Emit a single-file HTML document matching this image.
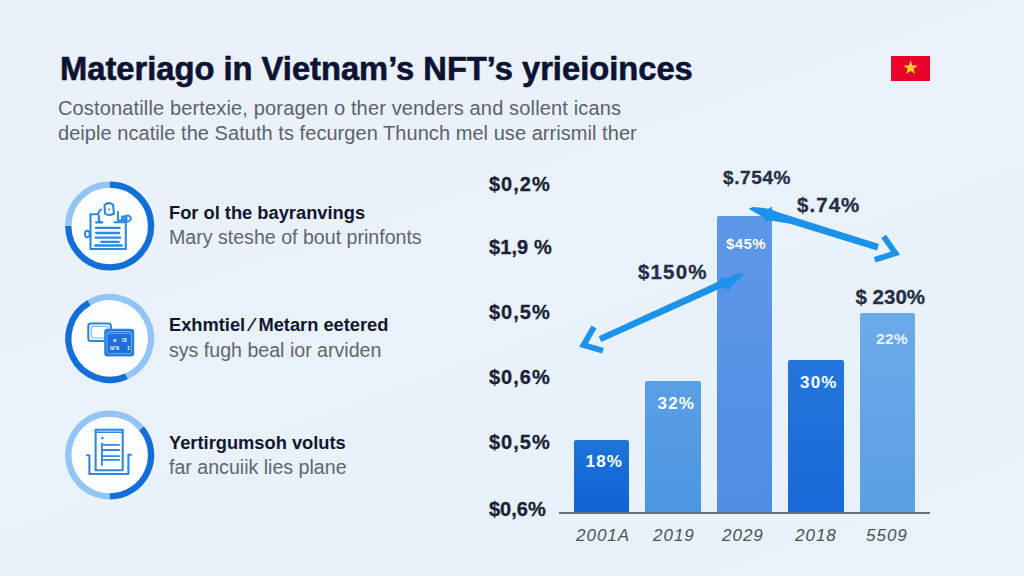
<!DOCTYPE html>
<html><head><meta charset="utf-8">
<style>
html,body{margin:0;padding:0;}
body{width:1024px;height:576px;overflow:hidden;position:relative;background:linear-gradient(160deg,#e9f0f8 0%,#e9f1f9 50%,#e7f2f9 100%);font-family:"Liberation Sans",sans-serif;}
.abs{position:absolute;white-space:nowrap;line-height:1;}
.title{left:60px;top:53px;font-size:32.7px;font-weight:bold;color:#0d1333;-webkit-text-stroke:0.6px #0d1333;}
.sub{left:58px;font-size:20px;color:#5b626d;letter-spacing:0.15px;}
.it{font-size:18.3px;font-weight:bold;color:#111631;}
.is{font-size:19.6px;color:#60666f;}
.yl{font-size:20px;letter-spacing:1px;font-weight:bold;color:#1b1f38;-webkit-text-stroke:0.3px #1b1f38;}
.xl{font-size:17px;color:#4a505c;font-style:italic;letter-spacing:1px;}
.bar{position:absolute;bottom:63px;border-radius:2px 2px 0 0;}
.bl{font-size:17px;letter-spacing:1.2px;font-weight:bold;color:#fff;}
.tl{font-size:19px;font-weight:bold;color:#272d46;-webkit-text-stroke:0.3px #272d46;}
</style></head><body>
<div class="abs title">Materiago in Vietnam’s NFT’s yrieioinces</div>
<svg class="abs" style="left:891px;top:56px" width="39" height="25" viewBox="0 0 39 25">
<rect width="39" height="25" fill="#e8032b"/>
<polygon fill="#f4d12a" points="19.60,4.30 21.36,9.47 26.83,9.55 22.45,12.83 24.07,18.05 19.60,14.90 15.13,18.05 16.75,12.83 12.37,9.55 17.84,9.47"/>
</svg>
<div class="abs sub" style="top:98px">Costonatille bertexie, poragen o ther venders and sollent icans</div>
<div class="abs sub" style="top:123px;letter-spacing:0.05px">deiple ncatile the Satuth ts fecurgen Thunch mel use arrismil ther</div>

<!-- SVG1 -->
<svg class="abs" style="left:0;top:0" width="1024" height="576" viewBox="0 0 1024 576">
<circle cx="109.7" cy="226" r="38.3" fill="#fbfdff"/>
<path d="M68.30 226.00A41.4 41.4 0 0 1 109.70 184.60" fill="none" stroke="#92c5f3" stroke-width="6.3"/>
<path d="M109.70 184.60A41.4 41.4 0 1 1 68.30 226.00" fill="none" stroke="#136fd8" stroke-width="6.3"/>
<circle cx="109.7" cy="338.5" r="38.3" fill="#fbfdff"/>
<path d="M89.00 302.65A41.4 41.4 0 1 1 126.54 376.32" fill="none" stroke="#92c5f3" stroke-width="6.3"/>
<path d="M126.54 376.32A41.4 41.4 0 0 1 89.00 302.65" fill="none" stroke="#136fd8" stroke-width="6.3"/>
<circle cx="109.7" cy="455" r="38.3" fill="#fbfdff"/>
<path d="M141.41 428.39A41.4 41.4 0 0 1 109.70 496.40" fill="none" stroke="#136fd8" stroke-width="6.3"/>
<path d="M109.70 496.40A41.4 41.4 0 1 1 141.41 428.39" fill="none" stroke="#92c5f3" stroke-width="6.3"/>
<g fill="none" stroke="#2f88de" stroke-width="2.1" stroke-linecap="round" stroke-linejoin="round">
 <!-- icon1 clipboard -->
 <path d="M98 214.3H90.5V249H125.8V222.3H114.5"/>
 <path d="M96 222.4H102.3M98 214.3C98.5 212 99.5 210.5 100.8 209.5M99 216C98.2 219 99 221.5 101 222.3"/>
 <path d="M104.5 205Q108.5 201.5 113 204.5L114 213.5Q109 216.5 105 213.5Z"/>
 <path d="M95.7 227.8H119.6M96.2 233H119M95.7 237.7H120.2M101.3 241.8H118.8M95.2 245.5H121.7" stroke-width="2.3"/>
 <path d="M118 212V220.5H124M122 220V216.5H126.5V220.5M127.5 215.5A3.3 3 0 1 1 127.5 221.5A3.3 3 0 1 1 127.5 215.5" stroke-width="1.9"/>
 <ellipse cx="87.3" cy="234" rx="2.4" ry="3.2" stroke-width="1.9"/>
</g>
<circle cx="109" cy="209.5" r="1" fill="#2a84dc"/>
<!-- icon2 -->
<g fill="none" stroke-linejoin="round">
 <rect x="88.3" y="323.5" width="22.6" height="17.4" rx="2.5" stroke="#2a84dc" stroke-width="2"/>
 <rect x="91.2" y="326.4" width="17" height="11.6" rx="1.5" stroke="#7dbaf0" stroke-width="1.2"/>
 <rect x="105" y="329.5" width="28.4" height="26.2" rx="2.5" fill="#1f6fd6" stroke="#2a84dc" stroke-width="1.6"/>
 <rect x="107" y="331.5" width="24.4" height="22.2" rx="1.5" stroke="#6fb4f0" stroke-width="1"/>
 <path d="M108 333.4H130.5" stroke="#5aa6ee" stroke-width="1.2"/>
</g>
<g fill="#fff" font-family="Liberation Sans" font-size="5.5" font-weight="bold">
 <text x="113" y="342">ɑ</text><text x="122" y="342">/3</text>
 <text x="110" y="349.5">0/'9</text><text x="127" y="349.5">1</text>
</g>
<!-- icon3 -->
<g fill="none" stroke="#2f88de" stroke-width="2.1" stroke-linecap="round" stroke-linejoin="round">
 <rect x="95.6" y="429.7" width="27.1" height="40.6"/>
 <path d="M96 432.2H122.2" stroke-width="1.6"/>
 <path d="M87 455.2H89.4V474H128.4V454.8H131"/>
 <path d="M101.9 443.5V465M101.9 444.8H119M101.9 450H119.2M101.9 456.2H119M101.9 459.9H119.2" stroke-width="1.8"/>
</g>
<circle cx="102.4" cy="438" r="1.2" fill="#2a84dc"/>
</svg>
<!-- /SVG1 -->
<!-- items -->
<div class="abs it" style="left:169px;top:203.7px">For ol the bayranvings</div>
<div class="abs is" style="left:169px;top:227.6px">Mary steshe of bout prinfonts</div>
<div class="abs it" style="left:169px;top:315.7px">Exhmtiel ⁄ Metarn eetered</div>
<div class="abs is" style="left:169px;top:341.4px">sys fugh beal ior arviden</div>
<div class="abs it" style="left:169px;top:433.8px">Yertirgumsoh voluts</div>
<div class="abs is" style="left:169px;top:457.8px">far ancuiik lies plane</div>

<!-- y labels -->
<div class="abs yl" style="left:489px;top:173.6px">$0,2%</div>
<div class="abs yl" style="left:489px;top:237.3px;letter-spacing:0.1px">$1,9 %</div>
<div class="abs yl" style="left:489px;top:302px">$0,5%</div>
<div class="abs yl" style="left:489px;top:367.4px">$0,6%</div>
<div class="abs yl" style="left:489px;top:432.1px">$0,5%</div>
<div class="abs yl" style="left:489px;top:498.5px;letter-spacing:0">$0,6%</div>

<!-- bars -->
<div class="bar" style="left:574px;width:55px;height:73px;background:linear-gradient(#1f74dc,#0f62d4)"></div>
<div class="bar" style="left:645px;width:56px;height:132px;background:linear-gradient(#5b9fe6,#4c95e0)"></div>
<div class="bar" style="left:717px;width:55px;height:297px;background:linear-gradient(#5e97e8,#4f8ee2)"></div>
<div class="bar" style="left:788px;width:56px;height:153px;background:linear-gradient(#2376dc,#176ad7)"></div>
<div class="bar" style="left:860px;width:55px;height:200px;background:linear-gradient(#6baaea,#5aa0e4)"></div>
<div class="abs" style="left:559px;top:512.3px;width:371px;height:1.6px;background:#6a707b"></div>

<div class="abs bl" style="left:585.5px;top:453px">18%</div>
<div class="abs bl" style="left:657.5px;top:395.2px">32%</div>
<div class="abs bl" style="left:726px;top:236px;letter-spacing:0.4px;font-size:15px">$45%</div>
<div class="abs bl" style="left:800px;top:374.3px">30%</div>
<div class="abs bl" style="left:876px;top:330.5px;opacity:.85;font-size:15.5px;letter-spacing:0.3px">22%</div>

<div class="abs tl" style="left:723px;top:167.7px;letter-spacing:0.6px">$.754%</div>
<div class="abs tl" style="left:797px;top:195.2px;letter-spacing:1.05px;font-size:20.5px">$.74%</div>
<div class="abs tl" style="left:638px;top:261.7px;letter-spacing:1.15px;font-size:20.5px">$150%</div>
<div class="abs tl" style="left:855.5px;top:287.4px;letter-spacing:0;font-size:20.5px">$ 230%</div>

<div class="abs xl" style="left:576px;top:527.3px">2001A</div>
<div class="abs xl" style="left:653px;top:527.3px">2019</div>
<div class="abs xl" style="left:722px;top:527.3px">2029</div>
<div class="abs xl" style="left:795px;top:527.3px">2018</div>
<div class="abs xl" style="left:866px;top:527.3px">5509</div>

<!-- SVG2 -->
<svg class="abs" style="left:0;top:0" width="1024" height="576" viewBox="0 0 1024 576">
<g fill="#1d92ea" stroke="none">
 <path d="M749.2 208.3L753.3 206.9L761.7 207.7L768.3 208.8L771.7 206.6L772 209.7L778.3 212.2L879 244L877 250.5L790 223.8L770 220.5L765 222.4L766 219.4L763.3 217.4L756.1 213L750 209.7Z"/>
 <path d="M744.3 274.3L739.2 273.3L732.4 275.3L727.5 277.7L723.2 278.4L719.3 276.5L721.2 280.1L712 284.5L598.7 336.2L601.3 342L712 292.3L721.7 287.4L727 288.9L729 291.3L730.5 287L733.9 284L739.2 279.2Z"/>
</g>
<g fill="none" stroke="#1d92ea" stroke-width="5.8" stroke-linejoin="miter" stroke-miterlimit="10">
 <path d="M883.6 236.3L895.5 253.2L874.75 259.8"/>
 <path d="M594 327L583.5 345L603 350.8"/>
</g>
</svg>
<!-- /SVG2 -->
</body></html>
